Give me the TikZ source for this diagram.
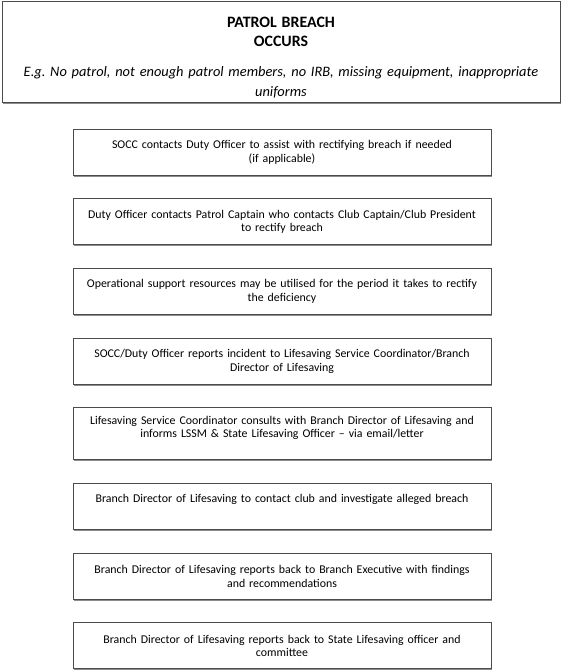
\documentclass[tikz,border=0pt]{standalone}
\usepackage{fontspec}
\setmainfont{Carlito}
\usetikzlibrary{positioning, shadows}

\begin{document}
\begin{tikzpicture}[
    x=0.75pt, y=-0.75pt, % one unit is one pixel of the page
    node distance=17pt,
    boxshadow/.style={drop shadow={shadow xshift=1.1pt, shadow yshift=-1.1pt, fill=black!45, opacity=1}}, % grey edge on right and bottom
    headbox/.style={draw=black!70, line width=0.75pt, fill=white, boxshadow,
        minimum width=418.5pt, minimum height=75pt, text width=410pt, align=center,
        font=\frenchspacing\fontsize{10.8}{14.5}\selectfont}, % Box for the breach itself
    stepbox/.style={draw=black!70, line width=0.75pt, fill=white, boxshadow,
        minimum width=313.5pt, minimum height=34.5pt, text width=305pt, align=center,
        font=\fontsize{8.9}{10.2}\selectfont} % Box for each step
]

    % === Page ===
    \useasboundingbox (0,0) rectangle (564,671);

    % === Breach ===
    \node[headbox, text height=16pt] (occurs) at (281,52)
        {{\fontsize{11.9}{15}\selectfont\textbf{PATROL BREACH}\\\textbf{OCCURS}}\\[8pt]
         \textit{E.g. No patrol, not enough patrol members, no IRB, missing equipment, inappropriate}\\
         \textit{uniforms}};

    % === Steps ===
    \node[stepbox, below=19.5pt of occurs, xshift=0.75pt] (socc)
        {SOCC contacts Duty Officer to assist with rectifying breach if needed\\(if applicable)};

    \node[stepbox, below=of socc] (duty)
        {Duty Officer contacts Patrol Captain who contacts Club Captain/Club President\\to rectify breach};

    \node[stepbox, below=of duty] (support)
        {Operational support resources may be utilised for the period it takes to rectify\\the deficiency};

    \node[stepbox, below=of support] (report)
        {SOCC/Duty Officer reports incident to Lifesaving Service Coordinator/Branch\\Director of Lifesaving};

    \node[stepbox, below=of report, minimum height=39pt, text depth=21pt] (consult)
        {Lifesaving Service Coordinator consults with Branch Director of Lifesaving and\\informs LSSM \& State Lifesaving Officer -- via email/letter};

    \node[stepbox, below=of consult, text depth=13pt] (investigate)
        {Branch Director of Lifesaving to contact club and investigate alleged breach};

    \node[stepbox, below=of investigate] (executive)
        {Branch Director of Lifesaving reports back to Branch Executive with findings\\and recommendations};

    \node[stepbox, below=of executive] (state)
        {Branch Director of Lifesaving reports back to State Lifesaving officer and\\committee};

\end{tikzpicture}
\end{document}
